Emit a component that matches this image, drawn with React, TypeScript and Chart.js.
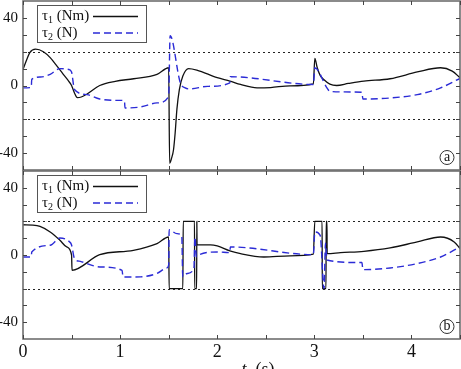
import React, { useEffect, useRef } from "react";
import { Chart, registerables } from "chart.js";

Chart.register(...registerables);

// ---- axis / tick values ----
const xTickValues = [0, 1, 2, 3, 4];
const xMinorTicks = [0, 0.5, 1, 1.5, 2, 2.5, 3, 3.5, 4, 4.5];
const yTickValues = [-40, 0, 40];
const yMinorTicks = [-40, -30, -20, -10, 0, 10, 20, 30, 40];
const limitLines = [-20, 20];
const seriesNames = ["τ1 (Nm)", "τ2 (N)"];

// ---- panel (a): tau1 ----
const aTau1Time = [0, 0.04, 0.07, 0.13, 0.21, 0.28, 0.35, 0.415, 0.47, 0.5, 0.53, 0.56, 0.6, 0.66, 0.79, 0.95, 1.14, 1.38, 1.5, 1.51, 1.53, 1.55, 1.567, 1.585, 1.61, 1.646, 1.705, 1.79, 2.0, 2.13, 2.24, 2.41, 2.55, 2.75, 2.99, 3.005, 3.03, 3.06, 3.1, 3.16, 3.23, 3.35, 3.51, 3.78, 4.06, 4.3, 4.42, 4.5];
const aTau1Value = [9.5, 15.5, 19.5, 21.5, 20, 16.5, 11.5, 6.6, 2.6, 0, -4.4, -7.2, -6.8, -5, 0, 2.5, 4, 6.6, 10.5, -46, -43, -38, -28, -14, -2.4, 5.6, 10, 9.1, 4.6, 2.6, 0.6, -1.4, -1.2, -0.2, 1.0, 16, 10.5, 6, 3.4, 0.8, 0, 1.2, 2.6, 4, 8, 10.5, 8.5, 4.6];

// ---- panel (a): tau2 ----
const aTau2Time = [0, 0.085, 0.09, 0.18, 0.28, 0.38, 0.47, 0.5, 0.53, 0.66, 0.79, 1.0, 1.045, 1.05, 1.21, 1.38, 1.5, 1.515, 1.62, 1.67, 1.72, 1.9, 2.13, 2.135, 2.99, 3.005, 3.13, 3.16, 3.3, 3.49, 3.5, 3.78, 4.06, 4.3, 4.5];
const aTau2Value = [-1.4, -1.2, 3.6, 5, 6.6, 10, 9.5, 8, -2.4, -5.4, -8, -8.8, -9, -13.3, -12.7, -10.3, -6.4, 29.5, 1.6, -1.4, -2, -0.5, 1.5, 5.2, 0.6, 10.5, -1.4, -3.4, -3.8, -4, -8, -7.4, -5.4, -1.4, 4.2];

// ---- panel (b): tau1 ----
const bTau1Time = [0, 0.1, 0.175, 0.28, 0.38, 0.45, 0.5, 0.505, 0.79, 1.137, 1.38, 1.5, 1.505, 1.646, 1.65, 1.766, 1.768, 1.788, 1.79, 1.792, 1.93, 2.0, 2.13, 2.24, 2.48, 2.75, 2.99, 3.005, 3.08, 3.082, 3.12, 3.122, 3.13, 3.132, 3.27, 3.51, 3.78, 4.06, 4.3, 4.44, 4.5];
const bTau1Value = [18, 17.8, 17, 13.7, 8.8, 4.8, 0, -9.1, 0.2, 2.8, 6.8, 10.7, -20, -20, 20, 20, -20, -20, 20, 6.2, 6, 5.4, 2.5, 0.8, -1.2, -0.5, 0.5, 20, 20, -20, -20, 20, 20, 0.8, 1.4, 2.2, 4.2, 7.8, 10.7, 7.8, 3.8];

// ---- panel (b): tau2 ----
const bTau2Time = [0, 0.085, 0.09, 0.28, 0.38, 0.48, 0.5, 0.53, 0.59, 0.79, 1.02, 1.03, 1.21, 1.38, 1.48, 1.5, 1.505, 1.585, 1.635, 1.645, 1.69, 1.76, 1.77, 1.785, 1.8, 2.0, 2.13, 2.135, 2.99, 3.005, 3.06, 3.1, 3.115, 3.13, 3.47, 3.49, 3.5, 3.78, 4.06, 4.3, 4.5];
const bTau2Value = [-1.2, -1.2, 1.8, 5.8, 10.1, 7.8, 6, -2, -3.8, -7.1, -9.1, -13.1, -13, -11, -7.7, -6, 15, 12.7, 11.7, -13, -11, -8, 10.7, -1, -0.2, 1.8, 1.4, 4.8, 0.2, 13.7, 11.7, -20, 7, -3, -4.5, -4.5, -8.7, -7.7, -5.1, -1.2, 4.8];

const W = 461;
const H = 369;
const SERIF = "'Liberation Serif', 'DejaVu Serif', serif";
const FRAME = "#6e6e6e";
const BLACK = "#111111";
const BLUE = "#2b2bd6";

function pts(t: number[], v: number[]) {
  return t.map((x, i) => ({ x, y: v[i] }));
}

function makePlugin(tag: string, showTitle: boolean) {
  return {
    id: "deco" + tag,
    beforeDatasetsDraw(chart: any) {
      const { ctx, chartArea } = chart;
      const ys = chart.scales.y;
      ctx.save();
      ctx.strokeStyle = "#222";
      ctx.lineWidth = 1;
      ctx.setLineDash([2, 3]);
      limitLines.forEach((v) => {
        const y = Math.round(ys.getPixelForValue(v)) + 0.5;
        ctx.beginPath();
        ctx.moveTo(chartArea.left, y);
        ctx.lineTo(chartArea.right, y);
        ctx.stroke();
      });
      ctx.restore();
    },
    afterDatasetsDraw(chart: any) {
      const { ctx, chartArea } = chart;
      const xs = chart.scales.x;
      const ys = chart.scales.y;
      const { left, right, top, bottom } = chartArea;
      ctx.save();
      // frame
      ctx.strokeStyle = FRAME;
      ctx.lineWidth = 1.6;
      ctx.setLineDash([]);
      ctx.strokeRect(left, top, right - left, bottom - top);
      // inward ticks
      ctx.lineWidth = 1;
      ctx.strokeStyle = "#444";
      xMinorTicks.forEach((t) => {
        const x = Math.round(xs.getPixelForValue(t)) + 0.5;
        ctx.beginPath();
        ctx.moveTo(x, bottom);
        ctx.lineTo(x, bottom - 4);
        ctx.moveTo(x, top);
        ctx.lineTo(x, top + 4);
        ctx.stroke();
      });
      yMinorTicks.forEach((v) => {
        const y = Math.round(ys.getPixelForValue(v)) + 0.5;
        ctx.beginPath();
        ctx.moveTo(left, y);
        ctx.lineTo(left + 4, y);
        ctx.moveTo(right, y);
        ctx.lineTo(right - 4, y);
        ctx.stroke();
      });
      // legend box
      const bx = 37;
      const by = top + 4;
      const bw = 109;
      const bh = 37;
      ctx.fillStyle = "#ffffff";
      ctx.fillRect(bx, by, bw, bh);
      ctx.strokeStyle = "#555";
      ctx.lineWidth = 1;
      ctx.strokeRect(bx + 0.5, by + 0.5, bw, bh);
      const rows = [by + 11.5, by + 28];
      const subs = ["1", "2"];
      const rest = [" (Nm)", " (N)"];
      rows.forEach((ry, i) => {
        ctx.fillStyle = "#111";
        ctx.textBaseline = "middle";
        ctx.textAlign = "left";
        ctx.font = `15px ${SERIF}`;
        let x = 42;
        ctx.fillText("τ", x, ry);
        x += ctx.measureText("τ").width;
        ctx.font = `10px ${SERIF}`;
        ctx.fillText(subs[i], x, ry + 4);
        x += ctx.measureText(subs[i]).width;
        ctx.font = `15px ${SERIF}`;
        ctx.fillText(rest[i], x, ry);
        ctx.beginPath();
        ctx.lineWidth = 1.4;
        if (i === 0) {
          ctx.strokeStyle = BLACK;
          ctx.setLineDash([]);
        } else {
          ctx.strokeStyle = BLUE;
          ctx.setLineDash([7, 4]);
        }
        ctx.moveTo(93, ry);
        ctx.lineTo(138, ry);
        ctx.stroke();
        ctx.setLineDash([]);
      });
      // panel tag
      const cx = 447;
      const cy = bottom - 12.5;
      ctx.beginPath();
      ctx.strokeStyle = "#333";
      ctx.lineWidth = 1;
      ctx.arc(cx, cy, 7, 0, Math.PI * 2);
      ctx.stroke();
      ctx.fillStyle = "#111";
      ctx.font = `14px ${SERIF}`;
      ctx.textAlign = "center";
      ctx.textBaseline = "middle";
      ctx.fillText(tag, cx, cy);
      // axis title
      if (showTitle) {
        ctx.textAlign = "left";
        ctx.textBaseline = "alphabetic";
        ctx.font = `italic 18px ${SERIF}`;
        const tw = ctx.measureText("t").width;
        ctx.font = `18px ${SERIF}`;
        const rw = ctx.measureText("  (s)").width;
        let x = 258 - (tw + rw) / 2;
        ctx.font = `italic 18px ${SERIF}`;
        ctx.fillText("t", x, 375);
        x += tw;
        ctx.font = `18px ${SERIF}`;
        ctx.fillText("  (s)", x, 375);
      }
      ctx.restore();
    },
  };
}

function makeConfig(t1: number[], v1: number[], t2: number[], v2: number[], bottomPanel: boolean, tag: string): any {
  return {
    type: "line",
    data: {
      datasets: [
        {
          label: seriesNames[1],
          data: pts(t2, v2),
          borderColor: BLUE,
          borderWidth: 1.4,
          borderDash: [7, 4],
          pointRadius: 0,
          fill: false,
          cubicInterpolationMode: "monotone",
        },
        {
          label: seriesNames[0],
          data: pts(t1, v1),
          borderColor: BLACK,
          borderWidth: 1.3,
          pointRadius: 0,
          fill: false,
          cubicInterpolationMode: "monotone",
        },
      ],
    },
    options: {
      responsive: false,
      maintainAspectRatio: false,
      animation: false,
      events: [],
      layout: {
        padding: bottomPanel
          ? { top: 171, right: 1, bottom: 0, left: 0 }
          : { top: 1, right: 1, bottom: H - 170, left: 0 },
      },
      plugins: { legend: { display: false }, tooltip: { enabled: false } },
      scales: {
        x: {
          type: "linear",
          min: 0,
          max: 4.5,
          display: bottomPanel,
          grid: { display: false, drawTicks: false },
          border: { display: false },
          ticks: {
            autoSkip: false,
            maxRotation: 0,
            padding: 2,
            color: "#111",
            font: { family: SERIF, size: 18 },
          },
          afterBuildTicks: (axis: any) => {
            axis.ticks = xTickValues.map((v) => ({ value: v }));
          },
          afterFit: (axis: any) => {
            axis.height = bottomPanel ? 30 : 0;
            axis.paddingLeft = 0;
            axis.paddingRight = 0;
          },
        },
        y: {
          type: "linear",
          min: -50,
          max: 50,
          grid: { display: false, drawTicks: false },
          border: { display: false },
          ticks: {
            padding: 5,
            color: "#111",
            font: { family: SERIF, size: 15 },
          },
          afterBuildTicks: (axis: any) => {
            axis.ticks = yTickValues.map((v) => ({ value: v }));
          },
          afterFit: (axis: any) => {
            axis.width = 23;
            axis.paddingTop = 0;
            axis.paddingBottom = 0;
          },
        },
      },
    },
    plugins: [makePlugin(tag, bottomPanel)],
  };
}

export default function App() {
  const topRef = useRef<HTMLCanvasElement | null>(null);
  const botRef = useRef<HTMLCanvasElement | null>(null);

  useEffect(() => {
    const c1 = new Chart(topRef.current as HTMLCanvasElement, makeConfig(aTau1Time, aTau1Value, aTau2Time, aTau2Value, false, "a"));
    const c2 = new Chart(botRef.current as HTMLCanvasElement, makeConfig(bTau1Time, bTau1Value, bTau2Time, bTau2Value, true, "b"));
    return () => {
      c1.destroy();
      c2.destroy();
    };
  }, []);

  const cs: React.CSSProperties = { position: "absolute", left: 0, top: 0, width: W, height: H };
  return (
    <div style={{ position: "absolute", left: 0, top: 0, width: W, height: H, background: "#fff", overflow: "hidden" }}>
      <canvas ref={topRef} width={W} height={H} style={cs} />
      <canvas ref={botRef} width={W} height={H} style={cs} />
    </div>
  );
}
